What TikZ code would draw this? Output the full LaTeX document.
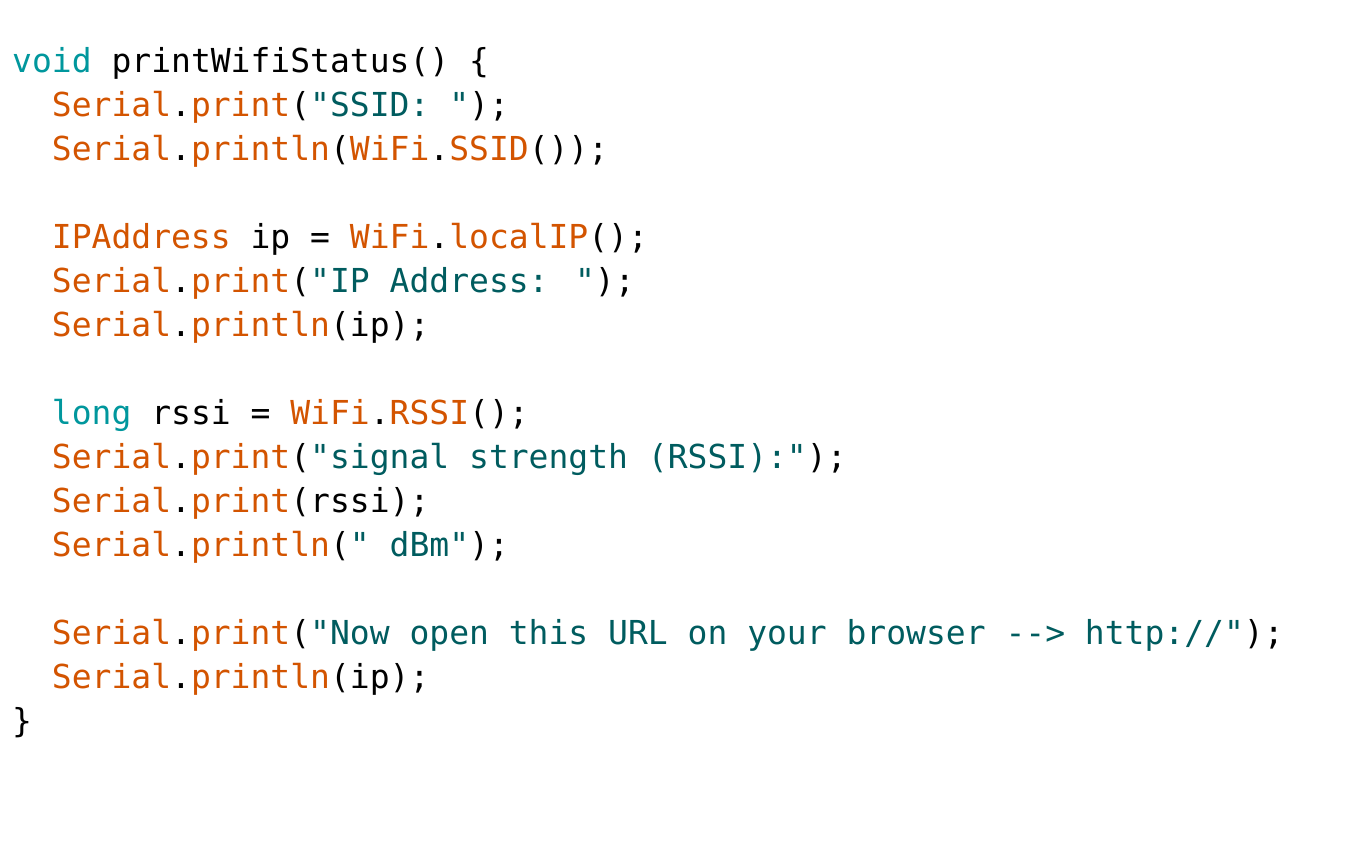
\documentclass[tikz,border=0pt]{standalone}
\usepackage{fontspec}
\newfontfamily\codefont{DejaVu Sans Mono}
\definecolor{kw}{HTML}{00979D}
\definecolor{fn}{HTML}{D35400}
\definecolor{st}{HTML}{005C5F}
\newcommand{\Kw}[1]{\textcolor{kw}{#1}}
\newcommand{\Fn}[1]{\textcolor{fn}{#1}}
\newcommand{\St}[1]{\textcolor{st}{#1}}
\begin{document}
\begin{tikzpicture}[x=1pt,y=-1pt,
  code/.style={anchor=base west,inner sep=0pt,font=\codefont\fontsize{33}{40}\selectfont}]
\useasboundingbox[fill=white] (0,0) rectangle (1358,852);
\node[code] (l1) at (12,72) {\Kw{void} printWifiStatus() \{};
\node[code] (l2) at (12,116) {\ \ \Fn{Serial}.\Fn{print}(\St{"SSID: "});};
\node[code] (l3) at (12,160) {\ \ \Fn{Serial}.\Fn{println}(\Fn{WiFi}.\Fn{SSID}());};
\node[code] (l5) at (12,248) {\ \ \Fn{IPAddress} ip = \Fn{WiFi}.\Fn{localIP}();};
\node[code] (l6) at (12,292) {\ \ \Fn{Serial}.\Fn{print}(\St{"IP Address: "});};
\node[code] (l7) at (12,336) {\ \ \Fn{Serial}.\Fn{println}(ip);};
\node[code] (l9) at (12,424) {\ \ \Kw{long} rssi = \Fn{WiFi}.\Fn{RSSI}();};
\node[code] (l10) at (12,468) {\ \ \Fn{Serial}.\Fn{print}(\St{"signal strength (RSSI):"});};
\node[code] (l11) at (12,512) {\ \ \Fn{Serial}.\Fn{print}(rssi);};
\node[code] (l12) at (12,556) {\ \ \Fn{Serial}.\Fn{println}(\St{" dBm"});};
\node[code] (l14) at (12,644) {\ \ \Fn{Serial}.\Fn{print}(\St{"Now open this URL on your browser -{}-> http://"});};
\node[code] (l15) at (12,688) {\ \ \Fn{Serial}.\Fn{println}(ip);};
\node[code] (l16) at (12,732) {\}};
\end{tikzpicture}
\end{document}
